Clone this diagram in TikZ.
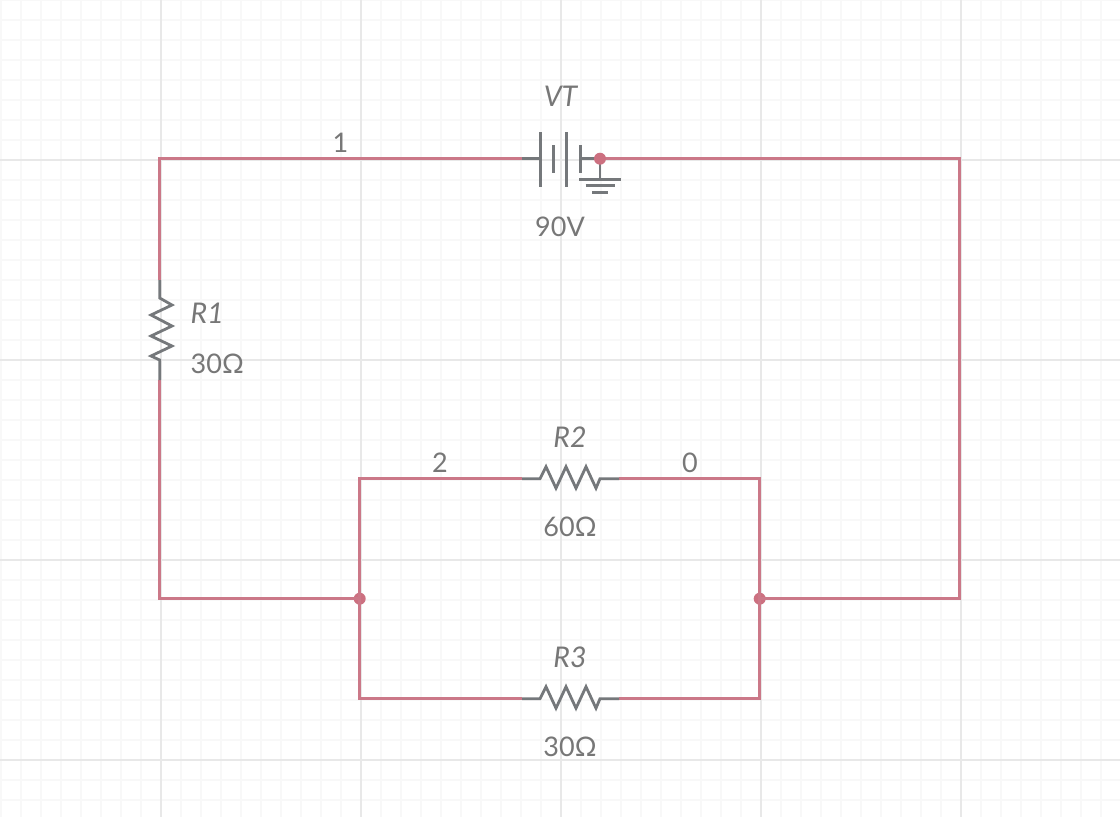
\documentclass[tikz,border=0pt]{standalone}
\usepackage{fontspec}
\setmainfont{Lato}
\definecolor{wirecol}{HTML}{CB7888}
\definecolor{dotcol}{HTML}{CC7080}
\definecolor{partcol}{HTML}{75787B}
\definecolor{txtcol}{HTML}{777777}
\definecolor{gridminor}{HTML}{F8F8F8}
\definecolor{gridmajor}{HTML}{E8E8E8}
\tikzset{
  wire/.style={draw=wirecol,line width=3pt,line join=miter},
  part/.style={draw=partcol,line width=2.8pt,line join=miter},
  plate/.style={draw=partcol,line width=3pt},
  junction/.style={circle,fill=dotcol,draw=none,minimum size=12pt,inner sep=0pt},
  lbl/.style={text=txtcol,font=\fontsize{27}{27}\selectfont,inner sep=0pt},
  ilbl/.style={text=txtcol,font=\fontsize{28.5}{28.5}\selectfont\itshape,inner sep=0pt},
  gminor/.style={draw=gridminor,line width=2pt},
  gmajor/.style={draw=gridmajor,line width=2pt},
}
\begin{document}
\begin{tikzpicture}[x=1pt,y=-1pt]
\useasboundingbox (0,0) rectangle (1120,817);
\fill[white] (0,0) rectangle (1120,817);
% grid
\foreach \i in {0,...,55}{\draw[gminor] ({1+20*\i},0) -- ({1+20*\i},817);}
\foreach \j in {0,...,40}{\draw[gminor] (0,{20*\j}) -- (1120,{20*\j});}
\foreach \i in {161,361,561,761,961}{\draw[gmajor] (\i,0) -- (\i,817);}
\foreach \j in {160,360,560,760}{\draw[gmajor] (0,\j) -- (1120,\j);}
% corners and terminals
\coordinate (tl) at (159.7,158.7);
\coordinate (tr) at (959.7,158.7);
\coordinate (br) at (959.7,598.7);
\coordinate (bl) at (159.7,598.7);
\coordinate (r1a) at (159.7,280);
\coordinate (r1b) at (159.7,380);
\coordinate (batL) at (522,158.7);
\coordinate (r2a) at (522,478.7);
\coordinate (r2b) at (619,478.7);
\coordinate (r3a) at (522,698.7);
\coordinate (r3b) at (619,698.7);
\coordinate (n2c) at (359.7,478.7);
\coordinate (n0c) at (759.7,478.7);
\coordinate (n3l) at (359.7,698.7);
\coordinate (n3r) at (759.7,698.7);
\node[junction] (jl) at (359.7,598.7) {};
\node[junction] (jr) at (759.7,598.7) {};
% wires
\draw[wire] (r1a) -- (tl) -- (batL);
\draw[wire] (600,158.7) -- (tr) -- (br) -- (jr.center);
\draw[wire] (r1b) -- (bl) -- (jl.center);
\draw[wire] (jl.center) -- (n2c) -- (r2a);
\draw[wire] (r2b) -- (n0c) -- (jr.center);
\draw[wire] (jl.center) -- (n3l) -- (r3a);
\draw[wire] (r3b) -- (n3r) -- (jr.center);
% R1
\draw[part] (r1a) -- (159.7,298) -- (172,305) -- (151,315) -- (172,326) -- (151,336) -- (172,346) -- (151,356) -- (159.7,360) -- (r1b);
% R2, R3
\foreach \s/\y in {r2/478.7,r3/698.7}{
  \draw[part] (\s a) -- (540,\y) -- (546,{\y-12}) -- (556,{\y+9.5}) -- (566,{\y-12}) -- (576,{\y+9.5}) -- (586,{\y-12}) -- (596,{\y+9.5}) -- (600,\y) -- (\s b);
}
% battery
\draw[part] (batL) -- (540,158.7);
\draw[plate] (540,132) -- (540,187);
\draw[plate] (553,145) -- (553,173);
\draw[plate] (566.5,132) -- (566.5,187);
\draw[plate] (580,145) -- (580,173);
\draw[part] (580,158.7) -- (600,158.7) -- (600,179);
\draw[plate] (579,179) -- (621,179);
\draw[plate] (585.5,185.5) -- (614.5,185.5);
\draw[plate] (592,192) -- (608,192);
\node[junction] (jb) at (600,158.7) {};
% labels
\node[ilbl] (vt) at (560.5,96.5) {VT};
\node[lbl] (v90) at (560,227) {90V};
\node[lbl] (n1) at (340.5,143) {1};
\node[ilbl,anchor=west] (r1n) at (190.5,313) {R1};
\node[lbl,anchor=west] (r1v) at (190.5,364) {30Ω};
\node[ilbl] (r2n) at (570,437) {R2};
\node[lbl] (r2v) at (570,527) {60Ω};
\node[lbl] (n2) at (440,463) {2};
\node[lbl] (n0) at (690,463) {0};
\node[ilbl] (r3n) at (570,657) {R3};
\node[lbl] (r3v) at (570,747) {30Ω};
\end{tikzpicture}
\end{document}
